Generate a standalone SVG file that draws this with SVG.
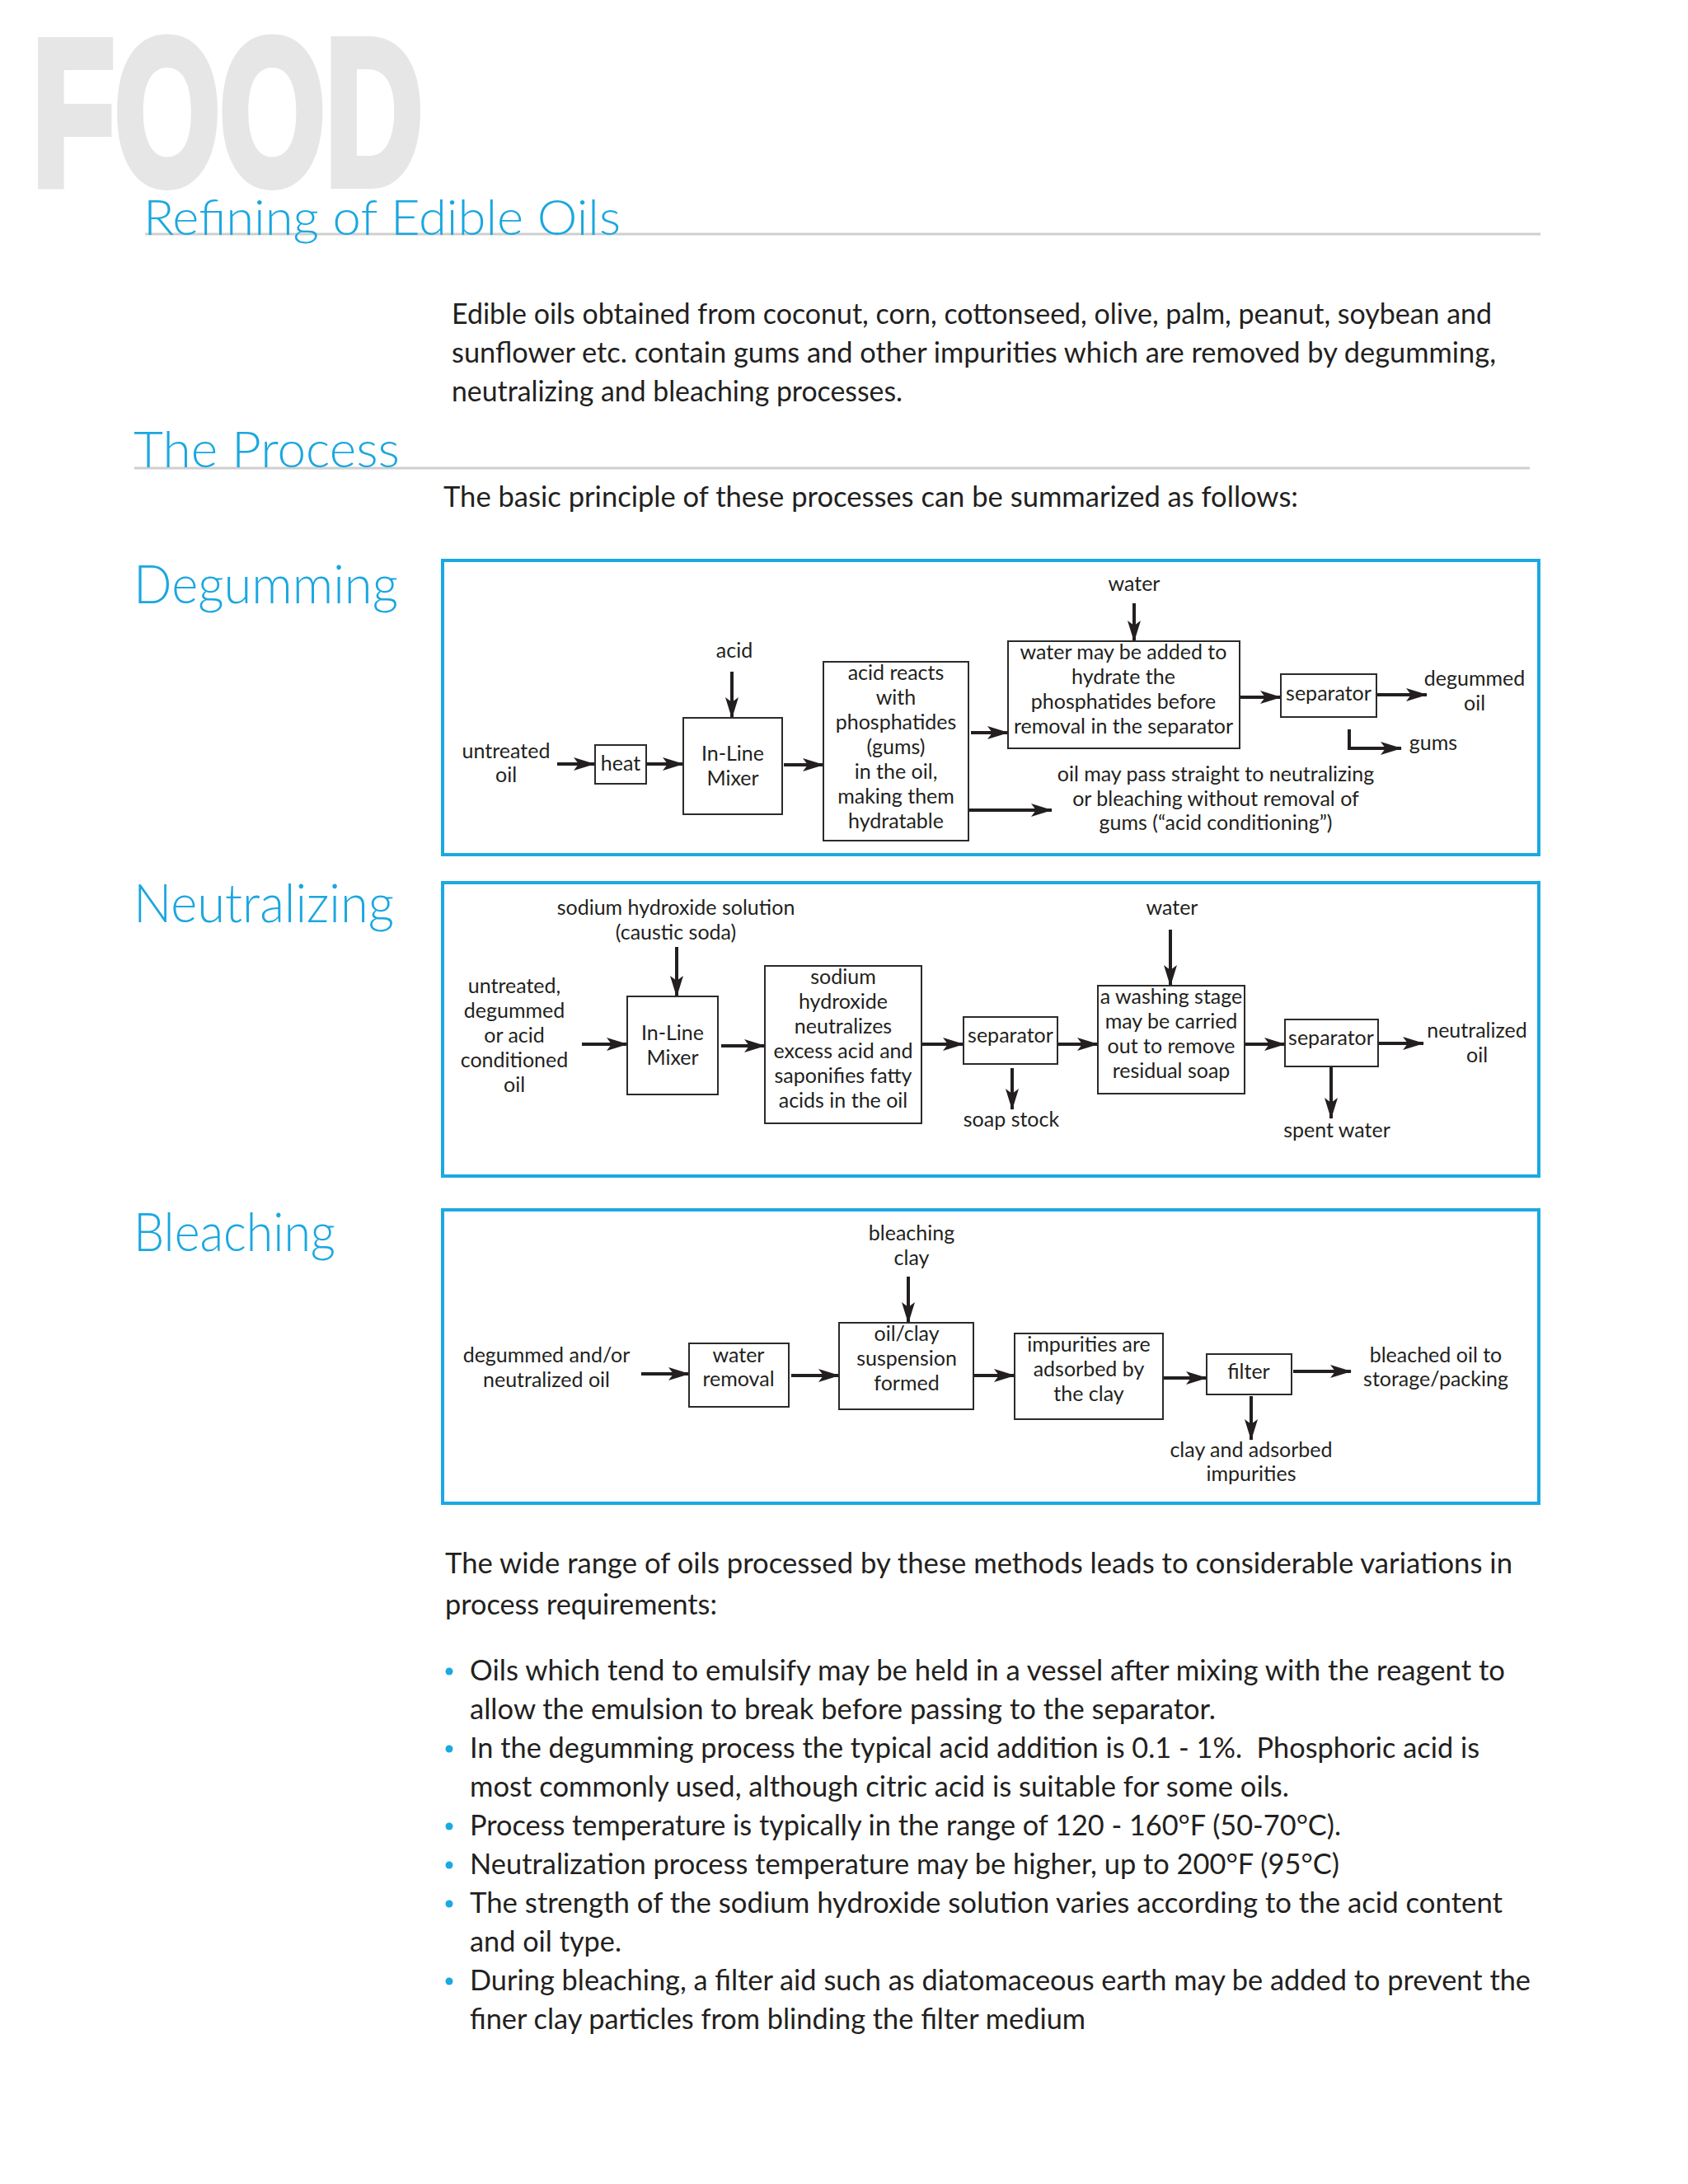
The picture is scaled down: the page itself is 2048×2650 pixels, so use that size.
<svg xmlns="http://www.w3.org/2000/svg" width="2048" height="2650" viewBox="0 0 2048 2650">
<defs>
<style>
.bg{fill:#ffffff}
.food{font-family:"Liberation Sans",Arial,sans-serif;font-weight:900;fill:#e6e6e6;stroke:#e6e6e6;stroke-width:12;stroke-linejoin:miter}
.head{font-family:Lato,"Open Sans","Liberation Sans",sans-serif;font-weight:300;fill:#1aa7e0}
.rule{stroke:#cfcfcf;stroke-width:3;fill:none}
.body{font-family:Lato,"Open Sans","Liberation Sans",sans-serif;font-size:34px;fill:#231f20}
.frame{fill:none;stroke:#1ba9e1;stroke-width:4}
.box{fill:#ffffff;stroke:#2b2b2b;stroke-width:2}
.lbl{font-family:Lato,"Open Sans","Liberation Sans",sans-serif;font-size:25px;fill:#231f20;text-anchor:middle}
.con{fill:none;stroke:#231f20;stroke-width:4;marker-end:url(#ah)}
.dot{fill:#1ba9e1}
</style>
<marker id="ah" markerUnits="userSpaceOnUse" viewBox="0 0 26 16" markerWidth="26" markerHeight="16" refX="25" refY="8" orient="auto">
<path d="M0,0 L26,8 L0,16 L6,8 Z" fill="#231f20"/>
</marker>
</defs>
<rect class="bg" x="0" y="0" width="2048" height="2650"/>

<g id="page-header">
<text class="food" x="39" y="223" font-size="251" textLength="474" lengthAdjust="spacingAndGlyphs">FOOD</text>
<line class="rule" x1="176" y1="284" x2="1869" y2="284"/>
<text class="head" x="174" y="285" font-size="60" textLength="579" lengthAdjust="spacingAndGlyphs">Refining of Edible Oils</text>
</g>

<g id="intro">
<text class="body" x="548" y="393" textLength="1262" lengthAdjust="spacingAndGlyphs">Edible oils obtained from coconut, corn, cottonseed, olive, palm, peanut, soybean and</text>
<text class="body" x="548" y="440" textLength="1267" lengthAdjust="spacingAndGlyphs">sunflower etc. contain gums and other impurities which are removed by degumming,</text>
<text class="body" x="548" y="487" textLength="547" lengthAdjust="spacingAndGlyphs">neutralizing and bleaching processes.</text>
</g>

<g id="process-heading">
<line class="rule" x1="163" y1="568" x2="1856" y2="568"/>
<text class="head" x="162" y="567" font-size="62" textLength="323" lengthAdjust="spacingAndGlyphs">The Process</text>
<text class="body" x="538" y="615" textLength="1037" lengthAdjust="spacingAndGlyphs">The basic principle of these processes can be summarized as follows:</text>
</g>

<g id="section-headings">
<text class="head" x="162" y="732" font-size="65" textLength="321" lengthAdjust="spacingAndGlyphs">Degumming</text>
<text class="head" x="162" y="1119" font-size="65" textLength="316" lengthAdjust="spacingAndGlyphs">Neutralizing</text>
<text class="head" x="162" y="1518" font-size="65" textLength="245" lengthAdjust="spacingAndGlyphs">Bleaching</text>
</g>

<g id="frames">
<rect class="frame" x="537" y="680" width="1330" height="357"/>
<rect class="frame" x="537" y="1071" width="1330" height="356"/>
<rect class="frame" x="537" y="1468" width="1330" height="356"/>
</g>

<g id="connectors">
<path class="con" d="M676,927 H721"/>
<path class="con" d="M785,927 H829"/>
<path class="con" d="M888,815 V871"/>
<path class="con" d="M951,928 H999"/>
<path class="con" d="M1178,889 H1223"/>
<path class="con" d="M1176,983 H1276"/>
<path class="con" d="M1376,732 V778"/>
<path class="con" d="M1505,846 H1554"/>
<path class="con" d="M1671,843 H1731"/>
<path class="con" d="M1637,885 V908 H1700"/>

<path class="con" d="M706,1267 H761"/>
<path class="con" d="M821,1149 V1209"/>
<path class="con" d="M875,1269 H928"/>
<path class="con" d="M1119,1267 H1169"/>
<path class="con" d="M1228,1296 V1346"/>
<path class="con" d="M1284,1267 H1332"/>
<path class="con" d="M1420,1128 V1196"/>
<path class="con" d="M1510,1267 H1559"/>
<path class="con" d="M1673,1266 H1727"/>
<path class="con" d="M1615,1294 V1357"/>

<path class="con" d="M778,1667 H836"/>
<path class="con" d="M960,1669 H1018"/>
<path class="con" d="M1102,1549 V1605"/>
<path class="con" d="M1182,1669 H1231"/>
<path class="con" d="M1412,1672 H1464"/>
<path class="con" d="M1569,1664 H1639"/>
<path class="con" d="M1518,1694 V1747"/>
</g>

<!-- Degumming -->
<g id="dg-untreated-oil">
<text class="lbl" x="614" y="920">untreated</text>
<text class="lbl" x="614" y="949">oil</text>
</g>
<g id="dg-heat">
<rect class="box" x="722" y="904" width="62" height="47"/>
<text class="lbl" x="753" y="935">heat</text>
</g>
<g id="dg-acid">
<text class="lbl" x="891" y="798">acid</text>
</g>
<g id="dg-mixer">
<rect class="box" x="829" y="871" width="120" height="117"/>
<text class="lbl" x="889" y="923">In-Line</text>
<text class="lbl" x="889" y="953">Mixer</text>
</g>
<g id="dg-acid-reacts">
<rect class="box" x="999" y="803" width="176" height="217"/>
<text class="lbl" x="1087" y="825">acid reacts</text>
<text class="lbl" x="1087" y="855">with</text>
<text class="lbl" x="1087" y="885">phosphatides</text>
<text class="lbl" x="1087" y="915">(gums)</text>
<text class="lbl" x="1087" y="945">in the oil,</text>
<text class="lbl" x="1087" y="975">making them</text>
<text class="lbl" x="1087" y="1005">hydratable</text>
</g>
<g id="dg-water">
<text class="lbl" x="1376" y="717">water</text>
</g>
<g id="dg-hydrate">
<rect class="box" x="1223" y="778" width="281" height="130"/>
<text class="lbl" x="1363" y="800">water may be added to</text>
<text class="lbl" x="1363" y="830">hydrate the</text>
<text class="lbl" x="1363" y="860">phosphatides before</text>
<text class="lbl" x="1363" y="890">removal in the separator</text>
</g>
<g id="dg-separator">
<rect class="box" x="1554" y="818" width="116" height="52"/>
<text class="lbl" x="1612" y="850">separator</text>
</g>
<g id="dg-degummed-oil">
<text class="lbl" x="1789" y="832">degummed</text>
<text class="lbl" x="1789" y="862">oil</text>
</g>
<g id="dg-gums">
<text class="lbl" x="1739" y="910">gums</text>
</g>
<g id="dg-note">
<text class="lbl" x="1475" y="948">oil may pass straight to neutralizing</text>
<text class="lbl" x="1475" y="978">or bleaching without removal of</text>
<text class="lbl" x="1475" y="1007">gums (“acid conditioning”)</text>
</g>

<!-- Neutralizing -->
<g id="nt-input">
<text class="lbl" x="624" y="1205">untreated,</text>
<text class="lbl" x="624" y="1235">degummed</text>
<text class="lbl" x="624" y="1265">or acid</text>
<text class="lbl" x="624" y="1295">conditioned</text>
<text class="lbl" x="624" y="1325">oil</text>
</g>
<g id="nt-naoh">
<text class="lbl" x="820" y="1110">sodium hydroxide solution</text>
<text class="lbl" x="820" y="1140">(caustic soda)</text>
</g>
<g id="nt-mixer">
<rect class="box" x="761" y="1209" width="110" height="119"/>
<text class="lbl" x="816" y="1262">In-Line</text>
<text class="lbl" x="816" y="1292">Mixer</text>
</g>
<g id="nt-neutralizes">
<rect class="box" x="928" y="1172" width="190" height="191"/>
<text class="lbl" x="1023" y="1194">sodium</text>
<text class="lbl" x="1023" y="1224">hydroxide</text>
<text class="lbl" x="1023" y="1254">neutralizes</text>
<text class="lbl" x="1023" y="1284">excess acid and</text>
<text class="lbl" x="1023" y="1314">saponifies fatty</text>
<text class="lbl" x="1023" y="1344">acids in the oil</text>
</g>
<g id="nt-separator1">
<rect class="box" x="1169" y="1234" width="114" height="57"/>
<text class="lbl" x="1226" y="1265">separator</text>
</g>
<g id="nt-soap-stock">
<text class="lbl" x="1227" y="1367">soap stock</text>
</g>
<g id="nt-water">
<text class="lbl" x="1422" y="1110">water</text>
</g>
<g id="nt-washing">
<rect class="box" x="1332" y="1196" width="178" height="131"/>
<text class="lbl" x="1421" y="1218">a washing stage</text>
<text class="lbl" x="1421" y="1248">may be carried</text>
<text class="lbl" x="1421" y="1278">out to remove</text>
<text class="lbl" x="1421" y="1308">residual soap</text>
</g>
<g id="nt-separator2">
<rect class="box" x="1559" y="1237" width="113" height="57"/>
<text class="lbl" x="1615" y="1268">separator</text>
</g>
<g id="nt-neutralized-oil">
<text class="lbl" x="1792" y="1259">neutralized</text>
<text class="lbl" x="1792" y="1289">oil</text>
</g>
<g id="nt-spent-water">
<text class="lbl" x="1622" y="1380">spent water</text>
</g>

<!-- Bleaching -->
<g id="bl-input">
<text class="lbl" x="663" y="1653">degummed and/or</text>
<text class="lbl" x="663" y="1683">neutralized oil</text>
</g>
<g id="bl-water-removal">
<rect class="box" x="836" y="1630" width="121" height="77"/>
<text class="lbl" x="896" y="1653">water</text>
<text class="lbl" x="896" y="1682">removal</text>
</g>
<g id="bl-clay">
<text class="lbl" x="1106" y="1505">bleaching</text>
<text class="lbl" x="1106" y="1535">clay</text>
</g>
<g id="bl-suspension">
<rect class="box" x="1018" y="1605" width="163" height="105"/>
<text class="lbl" x="1100" y="1627">oil/clay</text>
<text class="lbl" x="1100" y="1657">suspension</text>
<text class="lbl" x="1100" y="1687">formed</text>
</g>
<g id="bl-adsorbed">
<rect class="box" x="1231" y="1618" width="180" height="104"/>
<text class="lbl" x="1321" y="1640">impurities are</text>
<text class="lbl" x="1321" y="1670">adsorbed by</text>
<text class="lbl" x="1321" y="1700">the clay</text>
</g>
<g id="bl-filter">
<rect class="box" x="1464" y="1643" width="103" height="49"/>
<text class="lbl" x="1515" y="1673">filter</text>
</g>
<g id="bl-output">
<text class="lbl" x="1742" y="1653">bleached oil to</text>
<text class="lbl" x="1742" y="1682">storage/packing</text>
</g>
<g id="bl-residue">
<text class="lbl" x="1518" y="1768">clay and adsorbed</text>
<text class="lbl" x="1518" y="1797">impurities</text>
</g>

<g id="notes">
<text class="body" x="540" y="1909" textLength="1295" lengthAdjust="spacingAndGlyphs">The wide range of oils processed by these methods leads to considerable variations in</text>
<text class="body" x="540" y="1959" textLength="330" lengthAdjust="spacingAndGlyphs">process requirements:</text>
<circle class="dot" cx="545" cy="2028" r="4.5"/>
<text class="body" x="570" y="2039" textLength="1256" lengthAdjust="spacingAndGlyphs">Oils which tend to emulsify may be held in a vessel after mixing with the reagent to</text>
<text class="body" x="570" y="2086" textLength="905" lengthAdjust="spacingAndGlyphs">allow the emulsion to break before passing to the separator.</text>
<circle class="dot" cx="545" cy="2122" r="4.5"/>
<text class="body" x="570" y="2133" textLength="1225" lengthAdjust="spacingAndGlyphs">In the degumming process the typical acid addition is 0.1 - 1%.&#160; Phosphoric acid is</text>
<text class="body" x="570" y="2180" textLength="994" lengthAdjust="spacingAndGlyphs">most commonly used, although citric acid is suitable for some oils.</text>
<circle class="dot" cx="545" cy="2216" r="4.5"/>
<text class="body" x="570" y="2227" textLength="1057" lengthAdjust="spacingAndGlyphs">Process temperature is typically in the range of 120 - 160°F (50-70°C).</text>
<circle class="dot" cx="545" cy="2263" r="4.5"/>
<text class="body" x="570" y="2274" textLength="1055" lengthAdjust="spacingAndGlyphs">Neutralization process temperature may be higher, up to 200°F (95°C)</text>
<circle class="dot" cx="545" cy="2310" r="4.5"/>
<text class="body" x="570" y="2321" textLength="1253" lengthAdjust="spacingAndGlyphs">The strength of the sodium hydroxide solution varies according to the acid content</text>
<text class="body" x="570" y="2368" textLength="184" lengthAdjust="spacingAndGlyphs">and oil type.</text>
<circle class="dot" cx="545" cy="2404" r="4.5"/>
<text class="body" x="570" y="2415" textLength="1287" lengthAdjust="spacingAndGlyphs">During bleaching, a filter aid such as diatomaceous earth may be added to prevent the</text>
<text class="body" x="570" y="2462" textLength="747" lengthAdjust="spacingAndGlyphs">finer clay particles from blinding the filter medium</text>
</g>
</svg>
